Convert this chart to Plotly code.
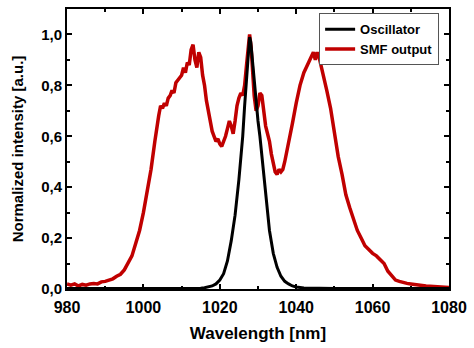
import plotly.graph_objects as go

# SMF output (red) spectrum
smf_wl = [980, 981, 982, 983, 984, 985, 986, 987, 988, 989, 990, 991, 992, 993, 994, 995, 996, 997, 998, 999,
          1000, 1001, 1002, 1003, 1003.5, 1004, 1004.5, 1005, 1005.5, 1006, 1006.5, 1007, 1007.5, 1008, 1008.5,
          1009, 1009.5, 1010, 1010.5, 1011, 1011.5, 1012, 1012.5, 1013, 1013.5, 1014, 1014.5, 1015, 1015.5,
          1016, 1016.5, 1017, 1017.5, 1018, 1018.5, 1019, 1019.5, 1020, 1020.5, 1021, 1021.5, 1022, 1022.5,
          1023, 1023.5, 1024, 1024.5, 1025, 1025.5, 1026, 1026.5, 1027, 1027.5, 1027.8, 1028.2, 1028.6, 1029,
          1029.5, 1030, 1030.5, 1031, 1031.5, 1032, 1032.5, 1033, 1033.5, 1034, 1034.5, 1035, 1035.5, 1036,
          1036.5, 1037, 1038, 1039, 1040, 1041, 1042, 1043, 1044, 1044.5, 1045, 1045.5, 1046, 1046.5, 1047,
          1048, 1049, 1050, 1051, 1052, 1053, 1054, 1055, 1056, 1057, 1058, 1059, 1060, 1061, 1062, 1063,
          1064, 1065, 1066, 1067, 1068, 1069, 1070, 1072, 1074, 1076, 1078, 1080]
smf_int = [0.02, 0.015, 0.02, 0.012, 0.018, 0.015, 0.02, 0.022, 0.02, 0.028, 0.03, 0.035, 0.04, 0.05, 0.058,
           0.075, 0.1, 0.13, 0.18, 0.23, 0.3, 0.38, 0.47, 0.58, 0.64, 0.68, 0.72, 0.71, 0.73, 0.72, 0.75, 0.76,
           0.78, 0.77, 0.81, 0.82, 0.83, 0.84, 0.87, 0.85, 0.89, 0.88, 0.94, 0.96, 0.90, 0.87, 0.93, 0.91, 0.84,
           0.80, 0.74, 0.70, 0.66, 0.62, 0.60, 0.58, 0.59, 0.57, 0.56, 0.58, 0.60, 0.63, 0.66, 0.64, 0.61, 0.66,
           0.72, 0.75, 0.77, 0.76, 0.80, 0.88, 0.96, 1.0, 0.95, 0.86, 0.76, 0.70, 0.72, 0.77, 0.76, 0.70, 0.64,
           0.61, 0.58, 0.53, 0.49, 0.46, 0.45, 0.47, 0.46, 0.47, 0.50, 0.57, 0.65, 0.73, 0.80, 0.85, 0.88, 0.91,
           0.93, 0.90, 0.93, 0.91, 0.88, 0.85, 0.78, 0.71, 0.61, 0.52, 0.45, 0.37, 0.32, 0.27, 0.23, 0.20, 0.17,
           0.155, 0.14, 0.13, 0.115, 0.10, 0.07, 0.05, 0.035, 0.03, 0.025, 0.022, 0.02, 0.015, 0.012, 0.01,
           0.008, 0.006]

# Oscillator (black) spectrum
osc_wl = [980, 990, 1000, 1010, 1015, 1016, 1017, 1018, 1019, 1020, 1021, 1022, 1023, 1024, 1025, 1026,
          1026.5, 1027, 1027.5, 1027.8, 1028.1, 1028.5, 1029, 1029.5, 1030, 1030.5, 1031, 1031.5, 1032,
          1032.5, 1033, 1034, 1035, 1036, 1037, 1038, 1039, 1040, 1042, 1050, 1060, 1070, 1080]
osc_int = [0.002, 0.002, 0.002, 0.002, 0.003, 0.005, 0.008, 0.012, 0.02, 0.035, 0.06, 0.11, 0.19, 0.29,
           0.43, 0.60, 0.72, 0.84, 0.95, 0.99, 0.97, 0.90, 0.83, 0.73, 0.66, 0.60, 0.52, 0.44, 0.36, 0.29,
           0.23, 0.14, 0.085, 0.05, 0.03, 0.02, 0.012, 0.008, 0.004, 0.002, 0.002, 0.002, 0.002]

x_ticks = [980, 1000, 1020, 1040, 1060, 1080]
y_ticks = [0.0, 0.2, 0.4, 0.6, 0.8, 1.0]

fig = go.Figure()
fig.add_trace(go.Scatter(x=smf_wl, y=smf_int, mode="lines", name="SMF output",
                         line=dict(color="#C00000", width=3.5), legendrank=2))
fig.add_trace(go.Scatter(x=osc_wl, y=osc_int, mode="lines", name="Oscillator",
                         line=dict(color="black", width=3), legendrank=1))

font_family = "Liberation Sans, Arial, sans-serif"
fig.update_layout(
    width=474, height=348,
    margin=dict(l=67, r=24, t=7, b=59),
    paper_bgcolor="white", plot_bgcolor="white",
    separators=",.",
    font=dict(family=font_family, color="black", size=14),
    showlegend=True,
    legend=dict(x=0.66, y=0.985, xanchor="left", yanchor="top",
                bgcolor="white", bordercolor="#555", borderwidth=1,
                font=dict(family=font_family, size=13, color="black", weight="bold"),
                tracegroupgap=0, itemwidth=30),
    xaxis=dict(range=[980, 1080], tickvals=x_ticks, ticktext=[str(v) for v in x_ticks],
               ticks="inside", ticklen=5, tickwidth=2, tickcolor="black",
               minor=dict(ticks="inside", ticklen=3, tickwidth=1.5, dtick=10, tickcolor="black"),
               showline=True, linecolor="black", linewidth=2, mirror="allticks",
               showgrid=False, zeroline=False, ticklabelstandoff=3,
               tickfont=dict(size=16, weight="bold"),
               title=dict(text="Wavelength [nm]", font=dict(size=17, weight="bold"), standoff=12)),
    yaxis=dict(range=[0, 1.1], tickvals=y_ticks, tickformat=".1f",
               ticks="inside", ticklen=5, tickwidth=2, tickcolor="black",
               minor=dict(ticks="inside", ticklen=3, tickwidth=1.5, dtick=0.1, tickcolor="black"),
               showline=True, linecolor="black", linewidth=2, mirror="allticks",
               showgrid=False, zeroline=False,
               tickfont=dict(size=15, weight="bold"),
               title=dict(text="Normalized intensity [a.u.]", font=dict(size=15, weight="bold"), standoff=14)),
)

fig.write_html("out.html")
